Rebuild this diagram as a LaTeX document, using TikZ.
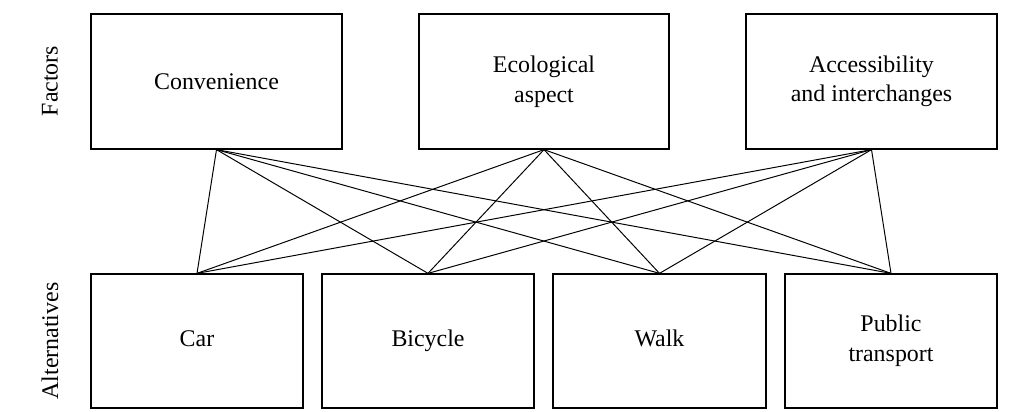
\documentclass[tikz,border=0pt]{standalone}
\usepackage{fontspec}
\setmainfont{Liberation Serif}
\begin{document}
\begin{tikzpicture}[x=0.025cm,y=-0.025cm,
  box/.style={draw,line width=0.9pt,align=center,font=\fontsize{17}{21}\selectfont,inner sep=0pt},
  lnk/.style={line width=0.7pt},
  side/.style={rotate=90,font=\fontsize{17}{21}\selectfont}]
\useasboundingbox (0,0) rectangle (1023,412);
\node[box,minimum width=251*0.025cm,minimum height=135*0.025cm] (f1) at (216.5,81.5) {Convenience};
\node[box,minimum width=250*0.025cm,minimum height=135*0.025cm] (f2) at (544,81.5) {Ecological\\aspect};
\node[box,minimum width=251*0.025cm,minimum height=135*0.025cm] (f3) at (871.5,81.5) {Accessibility\\and interchanges};
\node[box,minimum width=212*0.025cm,minimum height=134*0.025cm] (a1) at (197,341) {\strut Car};
\node[box,minimum width=212*0.025cm,minimum height=134*0.025cm] (a2) at (428,341) {\strut Bicycle};
\node[box,minimum width=213*0.025cm,minimum height=134*0.025cm] (a3) at (659.5,341) {\strut Walk};
\node[box,minimum width=212*0.025cm,minimum height=134*0.025cm] (a4) at (891,341) {Public\\transport};
\node[side] (lf) at (50,81) {Factors};
\node[side] (la) at (50,341) {Alternatives};
\foreach \f in {f1,f2,f3}{\foreach \a in {a1,a2,a3,a4}{\draw[lnk] (\f.south) -- (\a.north);}}
\end{tikzpicture}
\end{document}
